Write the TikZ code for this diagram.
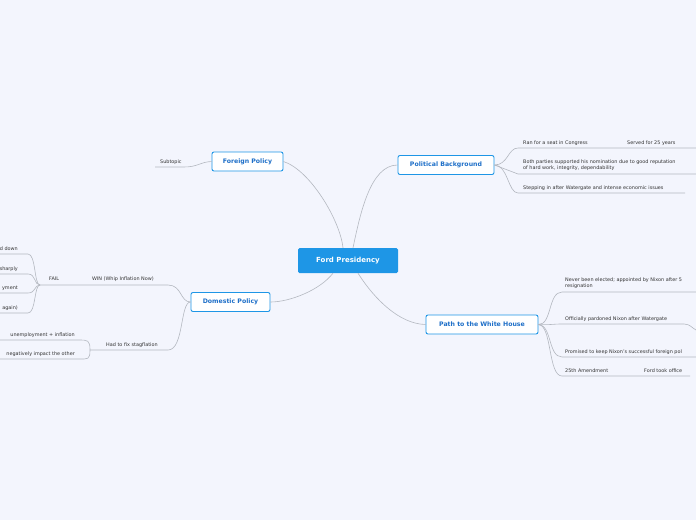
\documentclass[tikz,border=0pt]{standalone}
\usepackage{fontspec}
\setmainfont{DejaVu Sans}
\definecolor{bg}{HTML}{F3F5FD}
\definecolor{mapblue}{HTML}{1E96E6}
\definecolor{mapdark}{HTML}{1E6FC8}
\definecolor{linegray}{HTML}{B4B8C0}
\begin{document}
\begin{tikzpicture}[x=1pt,y=-1pt,
    central/.style={fill=mapblue,rounded corners=1.5pt,text=white,font=\fontsize{7}{8}\selectfont\bfseries,minimum width=100pt,minimum height=25pt},
    topic/.style={draw=mapblue,line width=0.9pt,fill=white,rounded corners=2pt,text=mapdark,font=\fontsize{6.2}{7}\selectfont\bfseries,minimum height=19pt,inner xsep=3pt},
    leaf/.style={font=\fontsize{4.9}{6.5}\selectfont,text=black!80,anchor=west,inner sep=0pt,align=left},
    link/.style={draw=linegray,line width=0.6pt}]

    \fill[bg] (0,0) rectangle (696,520);
    \useasboundingbox (0,0) rectangle (696,520);

    \node[central] (ford) at (348,260.5) {Ford Presidency};
    \node[topic,minimum width=71pt] (foreign) at (247.5,161.5) {Foreign Policy};
    \node[topic,minimum width=96pt] (political) at (446,165) {Political Background};
    \node[topic,minimum width=79pt] (domestic) at (230.5,302) {Domestic Policy};
    \node[topic,minimum width=112pt] (path) at (482,324.5) {Path to the White House};

    % main branches
    \draw[link] (ford.north) ++(-5,0) .. controls (340,220) and (310,170) .. (foreign.east);
    \draw[link] (ford.north) ++(5,0) .. controls (360,215) and (370,165) .. (political.west);
    \draw[link] (ford.south) ++(-15,0) .. controls (320,290) and (290,302) .. (domestic.east);
    \draw[link] (ford.south) ++(10,0) .. controls (375,300) and (400,324) .. (path.west);

    % foreign policy
    \node[leaf] (subtopic) at (160,162) {Subtopic};
    \draw[link] (foreign.west) .. controls (200,162) and (198,167) .. (184,167) -- (155,167);

    % political background
    \node[leaf] (congress) at (523,143) {Ran for a seat in Congress};
    \node[leaf] (served) at (627,143) {Served for 25 years};
    \node[leaf] (parties) at (523,165) {Both parties supported his nomination due to good reputation\\of hard work, integrity, dependability};
    \node[leaf] (watergate) at (523,188) {Stepping in after Watergate and intense economic issues};
    \draw[link] (political.east) .. controls (508,165) and (508,148) .. (518,148) -- (696,148);
    \draw[link] (political.east) -- (518,174) -- (696,174);
    \draw[link] (political.east) .. controls (508,165) and (508,193) .. (518,193) -- (685,193);

    % path to the white house
    \node[leaf] (elected) at (565,283) {Never been elected; appointed by Nixon after 5\\resignation};
    \node[leaf] (pardon) at (565,319) {Officially pardoned Nixon after Watergate};
    \node[leaf] (promise) at (565,352) {Promised to keep Nixon's successful foreign pol};
    \node[leaf] (amend) at (565,371) {25th Amendment};
    \node[leaf] (tookoffice) at (644,371) {Ford took office};
    \draw[link] (path.east) .. controls (552,325) and (548,292) .. (562,292) -- (696,292);
    \draw[link] (path.east) .. controls (552,325) and (552,324) .. (562,324) -- (684,324)
        .. controls (690,324) and (692,328) .. (696,330);
    \draw[link] (path.east) .. controls (552,325) and (548,357) .. (562,357) -- (696,357);
    \draw[link] (path.east) .. controls (552,325) and (548,376) .. (562,376) -- (690,376);

    % domestic policy
    \node[leaf] (win) at (92,279) {WIN (Whip Inflation Now)};
    \node[leaf] (fail) at (49,279) {FAIL};
    \node[leaf] (stag) at (106,345) {Had to fix stagflation};
    \draw[link] (domestic.west) .. controls (180,302) and (182,285) .. (168,285) -- (40,285);
    \draw[link] (domestic.west) .. controls (180,302) and (184,350) .. (168,350) -- (90,350);
    \node[leaf,anchor=east] (down) at (18,249) {d down};
    \node[leaf,anchor=east] (sharply) at (18,269) {sharply};
    \node[leaf,anchor=east] (yment) at (18,288) {yment};
    \node[leaf,anchor=east] (again) at (18,308) {again)};
    \foreach \yy in {254,274,293,313}
        \draw[link] (40,285) .. controls (34,285) and (36,\yy) .. (28,\yy) -- (0,\yy);
    \node[leaf,anchor=east] (unemp) at (75,335) {unemployment + inflation};
    \node[leaf,anchor=east] (neg) at (75,354) {negatively impact the other};
    \draw[link] (90,350) .. controls (90,340) and (88,340) .. (78,340) -- (0,340);
    \draw[link] (90,350) .. controls (90,360) and (88,359) .. (78,359) -- (0,359);
\end{tikzpicture}
\end{document}
